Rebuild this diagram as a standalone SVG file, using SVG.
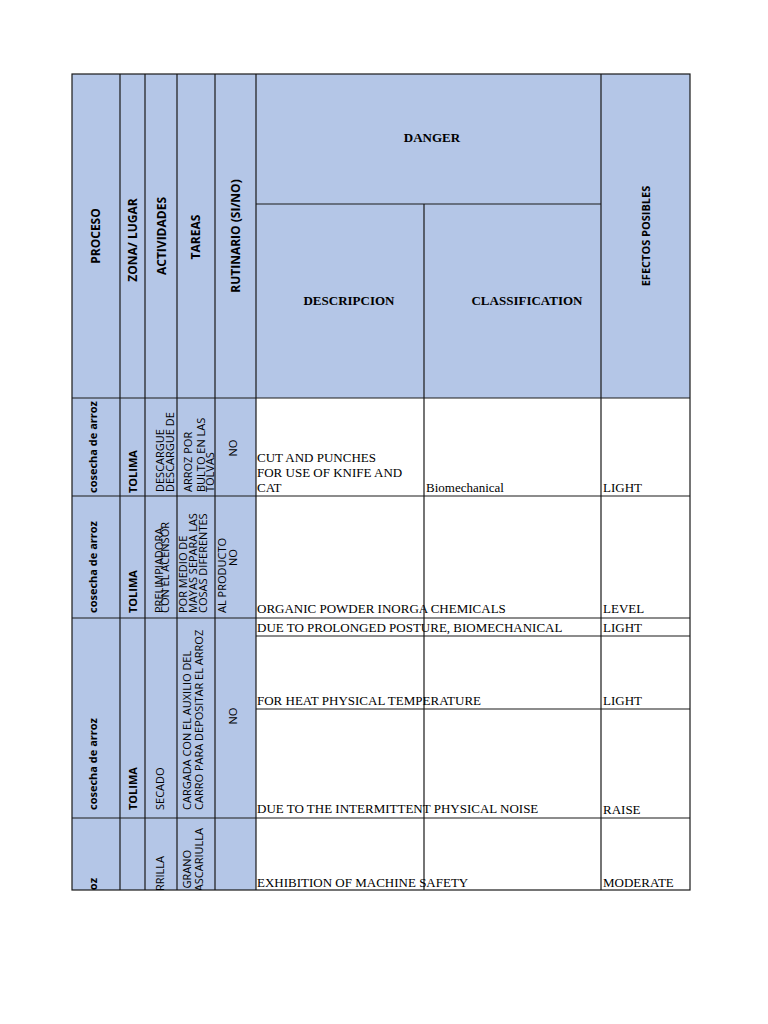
<svg xmlns="http://www.w3.org/2000/svg" width="768" height="1024" viewBox="0 0 768 1024">
<style>
.b{fill:#b4c6e7}
.l{stroke:#1a1a1a;stroke-width:1.2;fill:none}
.h{font-family:"Open Sans",sans-serif;font-weight:bold;font-size:12px;fill:#000}
.s{font-family:"Open Sans",sans-serif;font-size:11px;fill:#000}
.sb{font-family:"Open Sans",sans-serif;font-weight:bold;font-size:11px;fill:#000}
.t{font-family:"Liberation Serif",serif;font-size:13px;fill:#000}
.th{font-family:"Liberation Serif",serif;font-weight:bold;font-size:13px;fill:#000}
</style>
<defs><clipPath id="c"><rect x="72" y="74" width="618" height="816"/></clipPath></defs>
<rect width="768" height="1024" fill="#fff"/>
<g id="fills">
<rect class="b" x="72" y="74" width="618" height="324"/>
<rect class="b" x="72" y="398" width="184" height="492"/>
</g>
<g id="grid">
<rect class="l" x="72" y="74" width="618" height="816" stroke-width="1.6"/>
<path class="l" d="M120 74V890M145 74V890M177 74V890M215 74V890M256 74V890M601 74V890M424 204V890M256 204H601M72 398H690M72 496H690M72 618H690M256 636H690M256 709H690M72 818H690"/>
</g>
<g id="header">
<text class="th" x="432" y="142" text-anchor="middle">DANGER</text>
<text class="th" x="349" y="305" text-anchor="middle">DESCRIPCION</text>
<text class="th" x="527" y="305" text-anchor="middle">CLASSIFICATION</text>
<text class="h" transform="translate(100,236) rotate(-90)" text-anchor="middle">PROCESO</text>
<text class="h" transform="translate(137,240) rotate(-90)" text-anchor="middle">ZONA/ LUGAR</text>
<text class="h" transform="translate(166,236) rotate(-90)" text-anchor="middle">ACTIVIDADES</text>
<text class="h" transform="translate(200,237) rotate(-90)" text-anchor="middle">TAREAS</text>
<text class="h" transform="translate(240,236) rotate(-90)" text-anchor="middle">RUTINARIO (SI/NO)</text>
<text class="sb" transform="translate(650,236) rotate(-90)" text-anchor="middle">EFECTOS POSIBLES</text>
</g>
<g id="rows" clip-path="url(#c)">
<text class="sb" transform="translate(97,493) rotate(-90)">cosecha de arroz</text>
<text class="sb" transform="translate(137,493) rotate(-90)">TOLIMA</text>
<text class="s" transform="translate(164,492) rotate(-90)">DESCARGUE</text>
<text class="s" transform="translate(174,492) rotate(-90)">DESCARGUE DE</text>
<text class="s" transform="translate(192,492) rotate(-90)">ARROZ POR</text>
<text class="s" transform="translate(205,492) rotate(-90)">BULTO  EN LAS</text>
<text class="s" transform="translate(214,492) rotate(-90)">TOLVAS</text>
<text class="s" transform="translate(237,448) rotate(-90)" text-anchor="middle">NO</text>
<text class="t" x="257" y="462">CUT AND PUNCHES</text>
<text class="t" x="257" y="477">FOR USE OF KNIFE AND</text>
<text class="t" x="257" y="492">CAT</text>
<text class="t" x="426" y="492">Biomechanical</text>
<text class="t" x="603" y="492">LIGHT</text>

<text class="sb" transform="translate(97,613) rotate(-90)">cosecha de arroz</text>
<text class="sb" transform="translate(137,613) rotate(-90)">TOLIMA</text>
<text class="s" transform="translate(163,613) rotate(-90)">PRELIMPIADORA</text>
<text class="s" transform="translate(169,613) rotate(-90)">CON EL ACENSOR</text>
<text class="s" transform="translate(187,613) rotate(-90)">POR MEDIO DE</text>
<text class="s" transform="translate(197,613) rotate(-90)">MAYAS SEPARA LAS</text>
<text class="s" transform="translate(207,613) rotate(-90)">COSAS DIFERENTES</text>
<text class="s" transform="translate(226,613) rotate(-90)">AL PRODUCTO</text>
<text class="s" transform="translate(237,566) rotate(-90)">NO</text>
<text class="t" x="257" y="613">ORGANIC POWDER INORGA CHEMICALS</text>
<text class="t" x="603" y="613">LEVEL</text>

<text class="sb" transform="translate(97,810) rotate(-90)">cosecha de arroz</text>
<text class="sb" transform="translate(137,810) rotate(-90)">TOLIMA</text>
<text class="s" transform="translate(164,810) rotate(-90)">SECADO</text>
<text class="s" transform="translate(191,810) rotate(-90)">CARGADA CON EL AUXILIO DEL</text>
<text class="s" transform="translate(203,810) rotate(-90)">CARRO PARA DEPOSITAR EL ARROZ</text>
<text class="s" transform="translate(237,716) rotate(-90)" text-anchor="middle">NO</text>
<text class="t" x="257" y="632" font-size="12">DUE TO PROLONGED POSTURE, BIOMECHANICAL</text>
<text class="t" x="603" y="632">LIGHT</text>
<text class="t" x="257" y="705">FOR HEAT PHYSICAL TEMPERATURE</text>
<text class="t" x="603" y="705">LIGHT</text>
<text class="t" x="257" y="813" font-size="12">DUE TO THE INTERMITTENT PHYSICAL NOISE</text>
<text class="t" x="603" y="814">RAISE</text>

<text class="sb" transform="translate(97,878) rotate(-90)" text-anchor="end">cosecha de arroz</text>
<text class="s" transform="translate(164,856) rotate(-90)" text-anchor="end">MESA DENSIMETRICA ARRILLA</text>
<text class="s" transform="translate(191,850) rotate(-90)" text-anchor="end">SEPARA EL GRANO</text>
<text class="s" transform="translate(203,828) rotate(-90)" text-anchor="end">DE LA CASCARIULLA</text>
<text class="s" transform="translate(237,898) rotate(-90)" text-anchor="end">NO</text>
<text class="t" x="257" y="887">EXHIBITION OF MACHINE SAFETY</text>
<text class="t" x="603" y="887">MODERATE</text>
</g>
</svg>
